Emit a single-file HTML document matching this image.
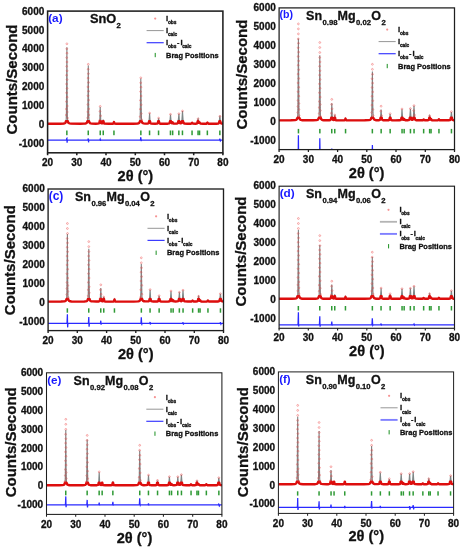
<!DOCTYPE html>
<html><head><meta charset="utf-8"><title>XRD Rietveld refinement</title>
<style>
html,body{margin:0;padding:0;background:#fff;}
svg{display:block;filter:blur(0.3px);font-family:'Liberation Sans', Arial, Helvetica, sans-serif;}
</style></head>
<body>
<svg width="464" height="550" viewBox="0 0 464 550">
<rect width="464" height="550" fill="#fff"/>
<clipPath id="clipa"><rect x="47.6" y="11.1" width="175.3" height="141.7"/></clipPath>
<g clip-path="url(#clipa)">
<path d="M47.5 123.7L59.3 123.7L63.3 123.6L64.3 123.4L65 123.1L65.5 122.6L65.8 121.8L66.2 119.5L66.4 111.8L66.9 47.2L67.2 100.5L67.4 117.1L67.6 119.5L67.9 121.8L68.4 122.8L69 123.2L70.1 123.5L72.2 123.7L79.2 123.7L83.9 123.6L85.3 123.5L86.3 123.2L86.9 122.7L87.2 122L87.4 120.9L87.6 119.8L87.8 112.3L88.3 65.5L88.6 102.9L88.8 117.4L89 119.8L89.2 121.6L89.4 122.3L89.7 122.7L90 123.1L90.4 123.3L91.1 123.5L92.1 123.6L96.8 123.7L98.6 123.5L99.1 123.3L99.3 123L99.5 122.4L99.8 120.1L100.2 107L100.8 121L101 122.7L101.2 123.1L101.6 123.3L102.3 123.4L102.5 123.3L102.6 123.1L102.8 122.4L103.2 119.6L103.8 123.2L104.1 123.5L104.8 123.6L109.7 123.7L113 123.7L113.3 123.6L113.5 123.3L114 122L114.6 123.5L114.8 123.6L115.5 123.7L135.6 123.7L137.9 123.5L138.6 123.3L139.1 123L139.5 122.4L139.8 121.8L140 120.4L140.1 118.7L140.3 110.3L140.8 78.5L141.3 110.3L141.5 118.7L141.6 120.4L141.9 121.8L142.2 122.6L142.8 123.2L143.4 123.4L144.1 123.5L146.4 123.6L147.9 123.5L148.4 123.3L148.6 123.1L148.9 122.5L149 121.7L149.6 113.3L150.1 121.7L150.3 122.5L150.5 123.1L150.7 123.3L151.1 123.5L152.5 123.7L155.5 123.7L156.9 123.6L157.6 123.4L157.9 123L158 122.6L158.6 118.3L159.2 122.6L159.4 123.3L159.6 123.5L160.9 123.7L164.9 123.7L168 123.6L169.2 123.4L169.4 123.2L169.6 122.9L169.9 121.6L170.5 114.5L171.1 121.6L171.2 122.4L171.4 123.1L171.7 123.3L172 123.2L172.6 122.3L173.2 123.3L173.5 123.6L175.8 123.6L177.3 123.4L177.9 123.1L178.1 122.2L178.9 113.8L179 114.6L179.4 121L179.6 122.5L179.8 122.9L180 123.2L180.5 123.3L181 123.3L181.3 123.1L181.5 122.7L181.8 121.5L182.5 111.1L183.2 121.8L183.3 122.4L183.5 123L183.8 123.3L184.2 123.5L186.1 123.7L190.9 123.7L191.3 123.6L191.5 123.5L192.1 122.7L192.7 123.5L193.1 123.7L195.5 123.7L196.8 123.5L197.2 123.3L197.4 122.7L197.9 119.3L198.1 118.9L198.2 119.3L198.6 122.1L198.8 122.8L198.9 122.9L199.1 122.9L199.5 122.3L200.1 123.3L200.6 123.6L202.9 123.7L206.3 123.7L206.8 123.4L207.4 122.6L208.1 123.5L208.5 123.7L215.4 123.7L218.1 123.6L218.7 123.3L219 122.8L219.3 121.6L219.7 116.9L219.9 116.5L220 116.9L220.5 121.6L220.8 123.1L221 123.3L221.5 123.5L223.7 123.7" fill="none" stroke="#7d8686" stroke-width="1.1"/>
<path d="M47.5 123.7L60.4 123.7L63.7 123.5L64.6 123.3L65.2 122.9L65.6 122.4L65.9 121.3L66 121.2L67.7 121.2L67.8 121.2L68.2 122.4L68.6 123L69.6 123.4L71 123.6L80.4 123.7L83.9 123.6L85.2 123.5L86.1 123.3L86.7 122.9L87.1 122.3L87.4 121.2L89.1 121.2L89.4 122.3L89.7 122.7L90 123.1L90.6 123.4L92.1 123.6L95.7 123.7L97.8 123.6L98.8 123.4L99.2 123.2L99.4 122.8L99.7 121.2L100.8 121.2L100.9 122.4L101.1 122.9L101.5 123.3L102.2 123.4L102.5 123.3L102.7 122.9L103 121.2L103.5 121.2L103.8 123.2L104.1 123.5L104.5 123.6L108.6 123.7L113 123.7L113.3 123.6L113.5 123.3L114 122L114.4 123.3L114.8 123.6L116.1 123.7L121.5 123.7L133.2 123.7L137.6 123.5L138.6 123.3L139.2 122.9L139.5 122.4L139.9 121.3L140 121.2L141.6 121.2L141.7 121.3L142.1 122.4L142.6 123L143.5 123.4L145 123.6L147.3 123.6L148.4 123.3L148.7 122.9L149.1 121.2L150 121.2L150.3 122.4L150.5 123.1L150.8 123.4L151.4 123.6L155.2 123.7L156.7 123.6L157.4 123.5L157.6 123.4L157.9 123L158.2 121.2L158.9 121.2L159.3 123L159.6 123.5L160.7 123.7L163.8 123.7L167.7 123.7L169.1 123.4L169.4 123.2L169.6 122.9L170 121.2L171 121.2L171.3 122.8L171.7 123.2L172 123.2L172.6 122.3L173.2 123.3L173.4 123.5L174.9 123.6L176.7 123.6L177.6 123.3L177.9 123.1L178 122.7L178.3 121.3L178.4 121.2L179.4 121.2L179.6 122.1L179.8 122.9L180.1 123.2L180.7 123.3L181.2 123.2L181.4 122.9L181.6 122.3L181.9 121.2L183.1 121.2L183.3 122.4L183.5 123L183.9 123.3L184.5 123.5L187.3 123.7L191 123.7L191.5 123.5L192.1 122.7L192.7 123.4L193 123.6L195.6 123.7L196.6 123.6L197.1 123.4L197.3 122.9L197.7 121.2L198.4 121.2L198.7 122.5L198.9 122.9L199.1 122.9L199.5 122.3L200.2 123.4L200.7 123.6L203 123.7L206.3 123.7L206.8 123.4L207.4 122.6L208.1 123.5L208.5 123.7L216.3 123.7L218 123.6L218.7 123.3L219 122.7L219.4 121.2L220.3 121.2L220.7 122.7L221 123.3L221.9 123.6L223.7 123.7" fill="none" stroke="#dd0d0d" stroke-width="2.4" stroke-linejoin="round"/>
<g fill="none" stroke="#ee3b3b" stroke-width="0.8" stroke-opacity="0.5"><circle cx="66.9" cy="43.8" r="0.9"/><circle cx="66.8" cy="48.8" r="0.9"/><circle cx="67" cy="53.2" r="0.9"/><circle cx="66.7" cy="57.6" r="0.9"/><circle cx="67" cy="62" r="0.9"/><circle cx="66.7" cy="66.4" r="0.9"/><circle cx="67.1" cy="70.8" r="0.9"/><circle cx="66.6" cy="75.2" r="0.9"/><circle cx="67.1" cy="79.6" r="0.9"/><circle cx="66.6" cy="84" r="0.9"/><circle cx="67.1" cy="88.4" r="0.9"/><circle cx="66.6" cy="92.8" r="0.9"/><circle cx="67.2" cy="97.2" r="0.9"/><circle cx="66.5" cy="101.6" r="0.9"/><circle cx="67.3" cy="106" r="0.9"/><circle cx="66.4" cy="109" r="0.9"/><circle cx="67.3" cy="112" r="0.9"/><circle cx="66.3" cy="115" r="0.9"/><circle cx="67.5" cy="118" r="0.9"/><circle cx="88.3" cy="64.3" r="0.9"/><circle cx="88.2" cy="69.3" r="0.9"/><circle cx="88.4" cy="73.7" r="0.9"/><circle cx="88.1" cy="78.1" r="0.9"/><circle cx="88.5" cy="82.5" r="0.9"/><circle cx="88" cy="86.9" r="0.9"/><circle cx="88.5" cy="91.3" r="0.9"/><circle cx="88" cy="95.7" r="0.9"/><circle cx="88.6" cy="100.1" r="0.9"/><circle cx="87.9" cy="104.5" r="0.9"/><circle cx="88.7" cy="108.9" r="0.9"/><circle cx="87.8" cy="111.9" r="0.9"/><circle cx="88.8" cy="114.9" r="0.9"/><circle cx="87.6" cy="117.9" r="0.9"/><circle cx="100.2" cy="106.4" r="0.9"/><circle cx="100" cy="111.4" r="0.9"/><circle cx="100.6" cy="115.8" r="0.9"/><circle cx="99.8" cy="120.2" r="0.9"/><circle cx="140.8" cy="77.8" r="0.9"/><circle cx="140.7" cy="82.8" r="0.9"/><circle cx="141" cy="87.2" r="0.9"/><circle cx="140.6" cy="91.6" r="0.9"/><circle cx="141.1" cy="96" r="0.9"/><circle cx="140.5" cy="100.4" r="0.9"/><circle cx="141.2" cy="104.8" r="0.9"/><circle cx="140.4" cy="109.2" r="0.9"/><circle cx="141.3" cy="113.6" r="0.9"/><circle cx="140.2" cy="116.6" r="0.9"/><circle cx="141.6" cy="119.6" r="0.9"/><circle cx="149.6" cy="113.1" r="0.9"/><circle cx="158.6" cy="118.1" r="0.9"/><circle cx="170.5" cy="114.3" r="0.9"/><circle cx="178.9" cy="113.7" r="0.9"/><circle cx="182.5" cy="111" r="0.9"/><circle cx="198.1" cy="118.8" r="0.9"/><circle cx="219.9" cy="116.3" r="0.9"/></g>
<g fill="#2f9a35"><rect x="66.1" y="130.5" width="1.5" height="4.7"/><rect x="87.5" y="130.5" width="1.5" height="4.7"/><rect x="99.5" y="130.5" width="1.5" height="4.7"/><rect x="102.5" y="130.5" width="1.5" height="4.7"/><rect x="113.2" y="130.5" width="1.5" height="4.7"/><rect x="140.1" y="130.5" width="1.5" height="4.7"/><rect x="148.8" y="130.5" width="1.5" height="4.7"/><rect x="157.8" y="130.5" width="1.5" height="4.7"/><rect x="169.7" y="130.5" width="1.5" height="4.7"/><rect x="171.9" y="130.5" width="1.5" height="4.7"/><rect x="178.1" y="130.5" width="1.5" height="4.7"/><rect x="181.7" y="130.5" width="1.5" height="4.7"/><rect x="191.3" y="130.5" width="1.5" height="4.7"/><rect x="197.3" y="130.5" width="1.5" height="4.7"/><rect x="198.8" y="130.5" width="1.5" height="4.7"/><rect x="206.6" y="130.5" width="1.5" height="4.7"/><rect x="219.1" y="130.5" width="1.5" height="4.7"/></g>
<path d="M47.5 140L66.4 140L66.5 139.9L66.6 139.5L66.7 138.5L66.9 138.3L67.1 142.8L67.3 140.8L67.4 140.1L67.6 140L87.8 140L87.9 139.9L88.3 138.5L88.5 141.5L88.6 141.6L88.8 140.2L89 140L99.7 140L99.9 139.9L100.2 139.1L100.3 139.4L100.5 140.9L100.8 140.1L101.1 140L140.1 140L140.3 139.9L140.5 139.6L140.8 137.2L141.2 140.6L141.3 140.6L141.5 140.1L141.9 140L219 140L219.4 139.9L219.7 139.2L219.9 139.2L220.2 140.7L220.3 140.9L220.7 140.2L220.9 140L223.7 140" fill="none" stroke="#2a2aff" stroke-width="1.25"/>
</g>
<rect x="47.6" y="11.1" width="175.3" height="141.7" fill="none" stroke="#1e1e1e" stroke-width="1.55"/>
<path d="M47.6 152.8V155.2M76.8 152.8V155.2M106 152.8V155.2M135.3 152.8V155.2M164.5 152.8V155.2M193.7 152.8V155.2M222.9 152.8V155.2" stroke="#1e1e1e" stroke-width="1.55"/>
<g font-size="10" font-weight="bold" fill="#111" stroke="#111" stroke-width="0.3"><text x="44.3" y="146.6" text-anchor="end">-1000</text><text x="44.3" y="127.7" text-anchor="end">0</text><text x="44.3" y="108.9" text-anchor="end">1000</text><text x="44.3" y="90" text-anchor="end">2000</text><text x="44.3" y="71.2" text-anchor="end">3000</text><text x="44.3" y="52.3" text-anchor="end">4000</text><text x="44.3" y="33.5" text-anchor="end">5000</text><text x="44.3" y="14.6" text-anchor="end">6000</text><text x="47.6" y="165.8" text-anchor="middle">20</text><text x="76.8" y="165.8" text-anchor="middle">30</text><text x="106" y="165.8" text-anchor="middle">40</text><text x="135.3" y="165.8" text-anchor="middle">50</text><text x="164.5" y="165.8" text-anchor="middle">60</text><text x="193.7" y="165.8" text-anchor="middle">70</text><text x="222.9" y="165.8" text-anchor="middle">80</text></g>
<text transform="translate(16.6 79.5) rotate(-90)" text-anchor="middle" font-size="15" font-weight="bold" fill="#111" stroke="#111" stroke-width="0.3">Counts/Second</text>
<text x="117.6" y="180.6" font-size="14.6" font-weight="bold" fill="#111" stroke="#111" stroke-width="0.3">2&#952; (&#176;)</text>
<text x="48.2" y="22.3" font-size="11.8" font-weight="bold" fill="#1a1aff">(a)</text>
<g font-weight="bold" fill="#111" stroke="#111" stroke-width="0.3"><text x="90" y="23" font-size="12.2" textLength="26.3" lengthAdjust="spacingAndGlyphs">SnO</text><text x="116.4" y="28.3" font-size="7.7">2</text></g>
<g font-weight="bold" fill="#111" stroke="#111" stroke-width="0.3"><circle cx="155.2" cy="18.6" r="1.1" fill="#ee3b3b" fill-opacity="0.55" stroke="none"/><line x1="146.6" y1="30.6" x2="163.7" y2="30.6" stroke="#8a8a8a" stroke-width="0.9"/><line x1="146.6" y1="42.7" x2="163.7" y2="42.7" stroke="#3b3bff" stroke-width="1.2"/><rect x="154.7" y="52.9" width="1.1" height="4.3" fill="#2f9a35" stroke="none"/><text x="166.1" y="20.9" font-size="7.6">I</text><text x="167.9" y="24.2" font-size="4.8">obs</text><text x="166.1" y="33" font-size="7.6">I</text><text x="167.9" y="36.3" font-size="4.8">calc</text><text x="166.1" y="45.1" font-size="7.6">I</text><text x="167.9" y="48.4" font-size="4.8">obs</text><text x="177.1" y="45.1" font-size="7.2">-</text><text x="180.4" y="45.1" font-size="7.6">I</text><text x="182.2" y="48.4" font-size="4.8">calc</text><text x="166.1" y="57.5" font-size="7.45">Brag Positions</text></g>
<clipPath id="clipb"><rect x="279.1" y="7.9" width="175.4" height="141.7"/></clipPath>
<g clip-path="url(#clipb)">
<path d="M279.1 120.4L290.8 120.4L294.9 120.2L295.8 120L296.5 119.7L297 119.2L297.4 118.4L297.7 115.9L297.9 107.6L298.4 38.6L298.8 95.5L299 113.3L299.1 115.9L299.5 118.4L299.9 119.4L300.5 119.9L301.1 120.1L301.9 120.2L304.9 120.3L313.1 120.3L316.3 120.2L317.2 120L317.9 119.8L318.4 119.3L318.8 118.5L319 117.3L319.1 116L319.3 107.7L319.8 55.3L320.2 97.1L320.4 113.3L320.5 116L320.7 118L321 118.8L321.2 119.3L321.6 119.7L321.9 119.9L322.6 120.1L323.7 120.2L328.3 120.3L330 120.2L330.5 120L330.8 119.7L331.1 119.1L331.3 116.6L331.8 103.3L332.3 117.6L332.6 119.3L332.8 119.7L333.1 120L333.8 120L334.1 119.8L334.2 119.6L334.4 118.7L334.8 114.9L335.2 118.7L335.4 119.6L335.6 120L336.3 120.3L340.1 120.4L344.6 120.3L344.8 120.2L345.1 119.9L345.5 118.6L346.1 120.1L346.3 120.3L347.1 120.4L367.1 120.3L369.5 120.1L370.1 119.9L370.7 119.6L371.1 119L371.3 118.3L371.5 116.8L371.7 115L371.9 105.8L372.4 71.4L372.8 105.8L373.1 115L373.2 116.8L373.4 118.3L373.8 119.2L374.4 119.8L374.9 120L375.6 120.1L377.9 120.3L379.5 120.1L379.9 120L380.2 119.7L380.4 119.1L380.5 118.3L381.1 109.6L381.7 118.3L381.9 119.5L382.2 119.9L382.4 120L383.7 120.3L386.6 120.3L388.5 120.2L389.2 120L389.4 119.5L389.5 119.1L390.1 114L390.7 119.1L390.9 119.8L391.2 120.1L392.2 120.3L395.3 120.4L399 120.3L400.5 120.1L400.9 119.9L401.1 119.6L401.3 118.8L401.6 116.5L401.9 110.1L402 109.3L402.6 117.9L402.7 118.8L403 119.6L403.2 119.8L403.5 119.8L404.2 119L404.7 120L405.1 120.2L407.2 120.3L408.8 120.1L409.1 119.9L409.4 119.6L409.7 118.6L410.4 108.8L410.5 109.7L411 117.2L411.2 119L411.3 119.4L411.6 119.7L412 119.9L412.5 119.8L412.9 119.6L413.1 119.2L413.3 117.8L414 105.9L414.7 118.1L414.8 118.9L415.1 119.6L415.3 119.8L415.8 120.1L417.6 120.3L422.5 120.3L423.1 120.1L423.6 119.4L424.2 120.1L424.6 120.3L426.9 120.3L428.4 120.2L428.7 119.9L429 119.4L429.5 116.3L429.6 115.9L429.7 116.2L430.1 118.8L430.4 119.6L430.5 119.6L430.6 119.6L431.1 119.1L431.7 120L432.1 120.3L434.5 120.4L437.9 120.3L438.3 120.1L438.9 119.3L439.6 120.2L440.2 120.3L447 120.4L449.7 120.2L450.2 119.9L450.6 119.3L450.8 117.9L451.3 112.5L451.4 112L451.5 112.5L452 117.9L452.4 119.6L452.6 119.9L453.1 120.2L455.2 120.4" fill="none" stroke="#7d8686" stroke-width="1.1"/>
<path d="M279.1 120.4L290.8 120.3L295 120.1L295.9 119.9L296.6 119.5L297 119L297.5 117.8L299.3 117.8L299.9 119.2L300.3 119.6L300.9 119.9L301.9 120.2L303.7 120.3L313.1 120.3L316.6 120.1L317.5 119.9L318 119.5L318.5 118.8L318.9 117.8L320.7 117.8L321.3 119.2L321.8 119.7L322.4 120L323.7 120.2L327.2 120.3L329.3 120.2L330.4 120L330.7 119.7L331 119.2L331.2 117.8L332.4 117.8L332.6 119L332.7 119.5L333.1 119.9L333.7 120L334 119.9L334.2 119.6L334.5 117.8L335.1 117.8L335.4 119.8L335.7 120.1L336.3 120.3L340.1 120.4L344.6 120.3L344.8 120.2L345.1 119.9L345.5 118.6L346 119.9L346.3 120.3L347.6 120.4L353 120.4L364.8 120.3L369 120.1L369.9 119.9L370.6 119.5L370.9 119L371.4 117.8L373.3 117.8L373.8 119L374.4 119.7L375.2 120L376.5 120.2L378.8 120.2L379.3 120.1L379.8 119.9L380 119.7L380.3 119.2L380.5 117.8L381.7 117.8L382 119.5L382.4 119.9L383.1 120.2L384.4 120.3L386.6 120.3L388 120.3L388.8 120.2L389.2 120L389.4 119.5L389.8 117.8L390.5 117.8L390.8 119.5L391.2 120.1L392.2 120.3L395.3 120.4L399.2 120.3L400.6 120L401.1 119.6L401.3 118.7L401.5 117.8L401.6 117.8L402.6 117.8L402.9 119.3L403 119.6L403.2 119.8L403.6 119.8L404.2 119L404.9 120.1L405.3 120.2L406.4 120.3L408.1 120.2L409 120L409.2 119.8L409.5 119.5L409.8 117.8L411 117.8L411.2 119.1L411.4 119.6L411.8 119.8L412.3 119.9L412.7 119.7L413 119.4L413.2 118.8L413.3 117.8L414.6 117.8L415.1 119.5L415.4 119.9L416.1 120.2L418.8 120.3L422.6 120.3L423.1 120.1L423.6 119.4L424.2 120.1L424.6 120.3L427.2 120.3L428.1 120.2L428.6 120L429 119.4L429.3 117.8L430 117.8L430.2 119L430.4 119.6L430.6 119.6L431.1 119L431.7 120.1L432.2 120.3L434.6 120.4L437.9 120.3L438.3 120.1L438.9 119.3L439.6 120.2L440.1 120.3L447.9 120.3L449.3 120.2L450.1 120L450.5 119.5L450.8 117.8L452 117.8L452.2 119.2L452.6 119.9L453.4 120.2L455.2 120.3" fill="none" stroke="#dd0d0d" stroke-width="2.4" stroke-linejoin="round"/>
<g fill="none" stroke="#ee3b3b" stroke-width="0.8" stroke-opacity="0.5"><circle cx="298.4" cy="23.9" r="0.9"/><circle cx="298.4" cy="28.9" r="0.9"/><circle cx="298.4" cy="33.9" r="0.9"/><circle cx="298.3" cy="38.9" r="0.9"/><circle cx="298.5" cy="43.3" r="0.9"/><circle cx="298.2" cy="47.7" r="0.9"/><circle cx="298.6" cy="52.1" r="0.9"/><circle cx="298.2" cy="56.5" r="0.9"/><circle cx="298.6" cy="60.9" r="0.9"/><circle cx="298.2" cy="65.3" r="0.9"/><circle cx="298.7" cy="69.7" r="0.9"/><circle cx="298.1" cy="74.1" r="0.9"/><circle cx="298.7" cy="78.5" r="0.9"/><circle cx="298.1" cy="82.9" r="0.9"/><circle cx="298.7" cy="87.3" r="0.9"/><circle cx="298.1" cy="91.7" r="0.9"/><circle cx="298.8" cy="96.1" r="0.9"/><circle cx="298" cy="100.5" r="0.9"/><circle cx="298.9" cy="103.5" r="0.9"/><circle cx="297.9" cy="106.5" r="0.9"/><circle cx="298.9" cy="109.5" r="0.9"/><circle cx="297.8" cy="112.5" r="0.9"/><circle cx="299.1" cy="115.5" r="0.9"/><circle cx="319.8" cy="42.5" r="0.9"/><circle cx="319.8" cy="47.5" r="0.9"/><circle cx="319.8" cy="52.5" r="0.9"/><circle cx="319.7" cy="57.5" r="0.9"/><circle cx="320" cy="61.9" r="0.9"/><circle cx="319.6" cy="66.3" r="0.9"/><circle cx="320" cy="70.7" r="0.9"/><circle cx="319.6" cy="75.1" r="0.9"/><circle cx="320.1" cy="79.5" r="0.9"/><circle cx="319.5" cy="83.9" r="0.9"/><circle cx="320.1" cy="88.3" r="0.9"/><circle cx="319.5" cy="92.7" r="0.9"/><circle cx="320.2" cy="97.1" r="0.9"/><circle cx="319.4" cy="101.5" r="0.9"/><circle cx="320.3" cy="104.5" r="0.9"/><circle cx="319.3" cy="107.5" r="0.9"/><circle cx="320.4" cy="110.5" r="0.9"/><circle cx="319.2" cy="113.5" r="0.9"/><circle cx="320.6" cy="116.5" r="0.9"/><circle cx="331.8" cy="99.4" r="0.9"/><circle cx="331.6" cy="104.4" r="0.9"/><circle cx="332.1" cy="108.8" r="0.9"/><circle cx="331.4" cy="113.2" r="0.9"/><circle cx="334.8" cy="115" r="0.9"/><circle cx="372.4" cy="64.3" r="0.9"/><circle cx="372.4" cy="69.3" r="0.9"/><circle cx="372.5" cy="74.3" r="0.9"/><circle cx="372.1" cy="78.7" r="0.9"/><circle cx="372.6" cy="83.1" r="0.9"/><circle cx="372.1" cy="87.5" r="0.9"/><circle cx="372.7" cy="91.9" r="0.9"/><circle cx="372" cy="96.3" r="0.9"/><circle cx="372.8" cy="100.7" r="0.9"/><circle cx="371.9" cy="105.1" r="0.9"/><circle cx="372.9" cy="109.5" r="0.9"/><circle cx="371.7" cy="112.5" r="0.9"/><circle cx="373.1" cy="115.5" r="0.9"/><circle cx="381.1" cy="106.2" r="0.9"/><circle cx="380.8" cy="111.2" r="0.9"/><circle cx="381.6" cy="115.6" r="0.9"/><circle cx="390.1" cy="113.7" r="0.9"/><circle cx="402" cy="109" r="0.9"/><circle cx="410.4" cy="108.6" r="0.9"/><circle cx="414" cy="105.6" r="0.9"/><circle cx="413.7" cy="110.6" r="0.9"/><circle cx="414.5" cy="115" r="0.9"/><circle cx="429.6" cy="115.7" r="0.9"/><circle cx="451.4" cy="111.7" r="0.9"/></g>
<g fill="#2f9a35"><rect x="297.7" y="128.9" width="1.5" height="4.5"/><rect x="319.1" y="128.9" width="1.5" height="4.5"/><rect x="331" y="128.9" width="1.5" height="4.5"/><rect x="334" y="128.9" width="1.5" height="4.5"/><rect x="344.8" y="128.9" width="1.5" height="4.5"/><rect x="371.6" y="128.9" width="1.5" height="4.5"/><rect x="380.4" y="128.9" width="1.5" height="4.5"/><rect x="389.4" y="128.9" width="1.5" height="4.5"/><rect x="401.3" y="128.9" width="1.5" height="4.5"/><rect x="403.4" y="128.9" width="1.5" height="4.5"/><rect x="409.7" y="128.9" width="1.5" height="4.5"/><rect x="413.3" y="128.9" width="1.5" height="4.5"/><rect x="422.9" y="128.9" width="1.5" height="4.5"/><rect x="428.9" y="128.9" width="1.5" height="4.5"/><rect x="430.3" y="128.9" width="1.5" height="4.5"/><rect x="438.2" y="128.9" width="1.5" height="4.5"/><rect x="450.7" y="128.9" width="1.5" height="4.5"/></g>
<path d="M279.1 160L297.9 160L298.1 159.4L298.2 155.1L298.4 135.3L298.6 155.1L298.8 159.4L298.9 160L299 160L319.1 160L319.3 159.9L319.5 159L319.6 154.4L319.8 138.3L320.2 159L320.3 159.9L320.4 160L331.3 160L331.4 159.7L331.5 158.3L331.8 148.5L332.1 158.3L332.2 159.7L332.3 160L334.2 160L334.4 159.7L334.5 158.4L334.8 149.5L335.1 158.4L335.2 159.7L335.4 160L371.7 160L371.8 160L371.9 159.6L372 158.2L372.4 145L372.7 158.2L372.8 159.6L373 160L380.5 160L380.6 159.7L380.8 158.5L381.1 149L381.5 158.5L381.6 159.7L381.7 160L381.8 160L455.2 160" fill="none" stroke="#2a2aff" stroke-width="1.25"/>
</g>
<rect x="279.1" y="7.9" width="175.4" height="141.7" fill="none" stroke="#1e1e1e" stroke-width="1.25"/>
<path d="M279.1 149.6V152M308.4 149.6V152M337.6 149.6V152M366.8 149.6V152M396 149.6V152M425.3 149.6V152M454.5 149.6V152" stroke="#1e1e1e" stroke-width="1.25"/>
<g font-size="10" font-weight="bold" fill="#111" stroke="#111" stroke-width="0.3"><text x="275.8" y="143.5" text-anchor="end">-1000</text><text x="275.8" y="124.5" text-anchor="end">0</text><text x="275.8" y="105.6" text-anchor="end">1000</text><text x="275.8" y="86.6" text-anchor="end">2000</text><text x="275.8" y="67.7" text-anchor="end">3000</text><text x="275.8" y="48.8" text-anchor="end">4000</text><text x="275.8" y="29.8" text-anchor="end">5000</text><text x="275.8" y="10.9" text-anchor="end">6000</text><text x="279.1" y="162.9" text-anchor="middle">20</text><text x="308.4" y="162.9" text-anchor="middle">30</text><text x="337.6" y="162.9" text-anchor="middle">40</text><text x="366.8" y="162.9" text-anchor="middle">50</text><text x="396" y="162.9" text-anchor="middle">60</text><text x="425.3" y="162.9" text-anchor="middle">70</text><text x="454.5" y="162.9" text-anchor="middle">80</text></g>
<text transform="translate(247.3 74.6) rotate(-90)" text-anchor="middle" font-size="15" font-weight="bold" fill="#111" stroke="#111" stroke-width="0.3">Counts/Second</text>
<text x="348.8" y="177.6" font-size="14.6" font-weight="bold" fill="#111" stroke="#111" stroke-width="0.3">2&#952; (&#176;)</text>
<text x="279.5" y="17.9" font-size="10.6" font-weight="bold" fill="#1a1aff">(b)</text>
<g font-weight="bold" fill="#111" stroke="#111" stroke-width="0.3"><text x="306.1" y="19.8" font-size="12.5">Sn</text><text x="322.5" y="25.1" font-size="7.7">0.98</text><text x="337.6" y="19.8" font-size="12.5">Mg</text><text x="356" y="25.1" font-size="7.7">0.02</text><text x="371.3" y="19.8" font-size="12.5">O</text><text x="381.4" y="25.1" font-size="7.7">2</text></g>
<g font-weight="bold" fill="#111" stroke="#111" stroke-width="0.3"><circle cx="387.2" cy="29.6" r="1.1" fill="#ee3b3b" fill-opacity="0.55" stroke="none"/><line x1="378.6" y1="41.6" x2="395.7" y2="41.6" stroke="#8a8a8a" stroke-width="0.9"/><line x1="378.6" y1="53.7" x2="395.7" y2="53.7" stroke="#3b3bff" stroke-width="1.2"/><rect x="386.7" y="63.9" width="1.1" height="4.3" fill="#2f9a35" stroke="none"/><text x="398.1" y="31.9" font-size="7.6">I</text><text x="399.9" y="35.2" font-size="4.8">obs</text><text x="398.1" y="44" font-size="7.6">I</text><text x="399.9" y="47.3" font-size="4.8">calc</text><text x="398.1" y="56.1" font-size="7.6">I</text><text x="399.9" y="59.4" font-size="4.8">obs</text><text x="409.1" y="56.1" font-size="7.2">-</text><text x="412.4" y="56.1" font-size="7.6">I</text><text x="414.2" y="59.4" font-size="4.8">calc</text><text x="398.1" y="68.5" font-size="7.45">Brag Positions</text></g>
<clipPath id="clipc"><rect x="48.1" y="189" width="175.4" height="141.6"/></clipPath>
<g clip-path="url(#clipc)">
<path d="M48 301.6L59.8 301.6L63.8 301.4L64.8 301.3L65.5 301L66 300.6L66.3 299.9L66.7 297.8L66.9 291L67.4 234L67.7 281.1L68 295.8L68.1 297.8L68.4 299.9L68.9 300.8L69.5 301.2L70.9 301.4L73.9 301.5L82.1 301.5L85.2 301.4L86.2 301.3L86.9 301.1L87.4 300.7L87.7 300L87.9 299.1L88.1 298L88.3 291.3L88.8 248.8L89.1 282.7L89.4 295.8L89.5 298L89.7 299.6L89.9 300.3L90.2 300.7L90.9 301.2L91.6 301.4L92.6 301.5L97.2 301.5L99 301.4L99.5 301.3L99.8 301L100 300.5L100.3 298.6L100.8 288L101.3 299.3L101.5 300.7L101.8 301.1L102.1 301.2L102.8 301.3L103 301.1L103.2 300.9L103.3 300.1L103.7 296.9L104.2 300.2L104.3 301L104.6 301.3L105.3 301.5L110.3 301.6L113.6 301.5L113.8 301.4L114 301L114.5 299.4L115.1 301.3L115.3 301.5L115.9 301.5L136.1 301.5L138.5 301.4L139.1 301.2L139.6 300.9L140 300.5L140.3 300L140.5 298.8L140.6 297.4L140.9 290.4L141.3 263.9L141.8 290.4L142 297.4L142.2 298.8L142.4 300L142.7 300.7L143.3 301.1L144.7 301.4L147.3 301.5L148.6 301.3L148.9 301.1L149.1 300.9L149.4 300.2L149.5 299.3L150.1 289.8L150.6 297.9L150.8 300.2L150.9 300.6L151.1 301L151.5 301.3L152.1 301.4L153.7 301.5L156.5 301.5L157.6 301.4L158.2 301.2L158.4 300.8L158.5 300.4L159.1 295.9L159.7 300.4L159.9 301.1L160.2 301.3L161.4 301.5L165.5 301.6L168.6 301.5L169.7 301.2L170 301L170.2 300.7L170.4 299.2L171 291.2L171.6 299.2L171.8 300.6L172.1 301L172.3 301.1L172.5 301L173.1 300.2L173.7 301.2L174.2 301.4L175.6 301.5L177.2 301.4L178 301.3L178.4 301L178.6 300.6L178.8 299.4L179.4 292.4L179.5 293.1L179.9 299.1L180.2 300.5L180.3 300.8L180.7 301.1L181.1 301.2L181.6 301.1L181.9 301L182.1 300.7L182.3 299.6L183 290.3L183.7 299.8L183.8 300.4L184.1 300.9L184.3 301.2L184.8 301.3L186.6 301.5L191.5 301.5L192 301.3L192.6 300.6L193.2 301.3L193.7 301.5L196 301.5L197.4 301.4L197.7 301.1L198 300.5L198.5 296.8L198.6 296.5L198.7 296.8L199.1 299.8L199.4 300.7L199.5 300.8L199.6 300.7L200.1 300.2L200.7 301.2L201.1 301.4L203.2 301.6L206.8 301.5L207.3 301.3L207.9 300.5L208.6 301.4L209.1 301.5L216 301.6L218.7 301.4L219.2 301.2L219.6 300.6L219.8 299.3L220.3 294.4L220.4 293.9L220.5 294.4L221 299.3L221.4 300.9L221.6 301.2L222.1 301.4L224.2 301.6" fill="none" stroke="#7d8686" stroke-width="1.1"/>
<path d="M48 301.6L60.9 301.5L64.2 301.4L65.1 301.1L65.7 300.8L66.1 300.3L66.5 299L68.2 299L68.7 300.3L69.2 300.9L70.1 301.3L71.5 301.5L80.9 301.6L84.4 301.5L85.7 301.4L86.7 301.1L87.2 300.7L87.6 300.1L87.9 299L89.6 299L89.9 300.1L90.2 300.6L90.5 300.9L91.1 301.2L92.6 301.4L96.2 301.5L98.4 301.5L99.5 301.2L99.7 301L99.9 300.7L100.2 299L101.3 299L101.5 300.3L101.6 300.8L102 301.2L102.7 301.3L103 301.2L103.2 300.9L103.5 299L104 299L104.2 300.5L104.4 301.1L104.7 301.4L105.2 301.5L109.1 301.6L113.6 301.5L113.8 301.4L114 301L114.5 299.4L115 301L115.3 301.5L116.6 301.6L122 301.6L133.8 301.6L138.2 301.4L139.1 301.1L139.7 300.8L140.2 300.1L140.5 299L142.2 299L142.6 300.3L143.1 300.9L144 301.3L145.5 301.4L147.7 301.4L148.8 301.2L149 301L149.3 300.6L149.5 299.3L149.6 299L150.6 299L151 300.9L151.4 301.2L152 301.4L153.3 301.5L155.6 301.5L157.1 301.5L157.9 301.3L158.2 301.2L158.4 300.8L158.7 299L159.5 299L159.8 300.8L160.2 301.3L161.2 301.5L164.3 301.6L168.2 301.5L169.6 301.3L170 301L170.2 300.7L170.4 299.2L170.6 299L171.5 299L171.6 299.2L171.8 300.5L172.2 301.1L172.5 301L173.1 300.2L173.7 301.2L174 301.4L175.6 301.5L177.2 301.4L178.1 301.2L178.4 301L178.6 300.6L178.9 299L179.9 299L179.9 299L180.1 300.1L180.3 300.8L180.7 301.1L181.4 301.2L181.8 301L182.1 300.7L182.4 299L183.6 299L183.9 300.7L184.3 301.1L184.9 301.4L187.8 301.5L191.6 301.5L192 301.3L192.6 300.6L193.2 301.3L193.6 301.5L196.1 301.5L197.1 301.4L197.6 301.2L198 300.4L198.2 299L199 299L199.2 300.3L199.4 300.7L199.6 300.7L200.1 300.2L200.7 301.2L201.2 301.5L203.6 301.6L206.8 301.5L207.3 301.3L207.9 300.5L208.6 301.4L209.1 301.5L216.9 301.5L218.3 301.5L219.1 301.2L219.5 300.8L219.8 299.2L219.9 299L220.9 299L221 299.2L221.2 300.5L221.6 301.2L222.4 301.4L224.2 301.6" fill="none" stroke="#dd0d0d" stroke-width="2.4" stroke-linejoin="round"/>
<g fill="none" stroke="#ee3b3b" stroke-width="0.8" stroke-opacity="0.5"><circle cx="67.4" cy="223.5" r="0.9"/><circle cx="67.4" cy="228.5" r="0.9"/><circle cx="67.5" cy="233.5" r="0.9"/><circle cx="67.2" cy="238.5" r="0.9"/><circle cx="67.5" cy="242.9" r="0.9"/><circle cx="67.2" cy="247.3" r="0.9"/><circle cx="67.6" cy="251.7" r="0.9"/><circle cx="67.1" cy="256.1" r="0.9"/><circle cx="67.6" cy="260.5" r="0.9"/><circle cx="67.1" cy="264.9" r="0.9"/><circle cx="67.7" cy="269.3" r="0.9"/><circle cx="67" cy="273.7" r="0.9"/><circle cx="67.7" cy="278.1" r="0.9"/><circle cx="67" cy="282.5" r="0.9"/><circle cx="67.8" cy="285.5" r="0.9"/><circle cx="66.9" cy="288.5" r="0.9"/><circle cx="67.9" cy="291.5" r="0.9"/><circle cx="66.8" cy="294.5" r="0.9"/><circle cx="68.1" cy="297.5" r="0.9"/><circle cx="88.8" cy="241.6" r="0.9"/><circle cx="88.8" cy="246.6" r="0.9"/><circle cx="88.9" cy="251.6" r="0.9"/><circle cx="88.6" cy="256" r="0.9"/><circle cx="89" cy="260.4" r="0.9"/><circle cx="88.5" cy="264.8" r="0.9"/><circle cx="89" cy="269.2" r="0.9"/><circle cx="88.5" cy="273.6" r="0.9"/><circle cx="89.1" cy="278" r="0.9"/><circle cx="88.4" cy="282.4" r="0.9"/><circle cx="89.2" cy="286.8" r="0.9"/><circle cx="88.3" cy="289.8" r="0.9"/><circle cx="89.3" cy="292.8" r="0.9"/><circle cx="88.2" cy="295.8" r="0.9"/><circle cx="100.8" cy="284.8" r="0.9"/><circle cx="100.5" cy="289.8" r="0.9"/><circle cx="101.1" cy="294.2" r="0.9"/><circle cx="100.2" cy="298.6" r="0.9"/><circle cx="103.7" cy="297" r="0.9"/><circle cx="141.3" cy="257.8" r="0.9"/><circle cx="141.3" cy="262.8" r="0.9"/><circle cx="141.5" cy="267.8" r="0.9"/><circle cx="141.1" cy="272.2" r="0.9"/><circle cx="141.6" cy="276.6" r="0.9"/><circle cx="141" cy="281" r="0.9"/><circle cx="141.8" cy="285.4" r="0.9"/><circle cx="140.8" cy="289.8" r="0.9"/><circle cx="141.9" cy="294.2" r="0.9"/><circle cx="140.6" cy="297.2" r="0.9"/><circle cx="150.1" cy="289.6" r="0.9"/><circle cx="159.1" cy="295.7" r="0.9"/><circle cx="171" cy="291" r="0.9"/><circle cx="179.4" cy="292.3" r="0.9"/><circle cx="183" cy="290.2" r="0.9"/><circle cx="198.6" cy="296.3" r="0.9"/><circle cx="220.4" cy="293.7" r="0.9"/></g>
<g fill="#2f9a35"><rect x="66.6" y="308.3" width="1.5" height="4.4"/><rect x="88" y="308.3" width="1.5" height="4.4"/><rect x="100" y="308.3" width="1.5" height="4.4"/><rect x="103" y="308.3" width="1.5" height="4.4"/><rect x="113.7" y="308.3" width="1.5" height="4.4"/><rect x="140.6" y="308.3" width="1.5" height="4.4"/><rect x="149.3" y="308.3" width="1.5" height="4.4"/><rect x="158.4" y="308.3" width="1.5" height="4.4"/><rect x="170.3" y="308.3" width="1.5" height="4.4"/><rect x="172.4" y="308.3" width="1.5" height="4.4"/><rect x="178.6" y="308.3" width="1.5" height="4.4"/><rect x="182.3" y="308.3" width="1.5" height="4.4"/><rect x="191.9" y="308.3" width="1.5" height="4.4"/><rect x="197.8" y="308.3" width="1.5" height="4.4"/><rect x="199.3" y="308.3" width="1.5" height="4.4"/><rect x="207.2" y="308.3" width="1.5" height="4.4"/><rect x="219.7" y="308.3" width="1.5" height="4.4"/></g>
<path d="M48 323.4L66.9 323.4L67 323.1L67.1 321.4L67.4 314.3L67.6 326.9L67.7 327.1L67.8 324.6L68 323.6L68.1 323.4L88.3 323.4L88.4 323.1L88.5 321.6L88.8 317.1L89 325.7L89.1 326.6L89.4 323.7L89.5 323.4L100.2 323.4L100.3 323.3L100.5 323L100.8 320.7L101 324L101.1 324.6L101.3 323.6L101.6 323.4L140.7 323.4L140.9 323.2L141 322.6L141.3 317.4L141.7 324.1L141.8 324.3L142 323.5L142.3 323.4L149.5 323.4L149.7 323.2L150.1 322L150.4 324L150.6 323.9L150.8 323.5L151 323.4L182.3 323.4L182.6 323.3L182.9 322.5L183 322.5L183.4 324L183.5 324L183.7 323.6L184.1 323.4L219.7 323.4L219.9 323.3L220.3 322.6L220.4 322.6L220.8 324.1L220.9 324.3L221.2 323.6L221.5 323.4L224.2 323.4" fill="none" stroke="#2a2aff" stroke-width="1.25"/>
</g>
<rect x="48.1" y="189" width="175.4" height="141.6" fill="none" stroke="#1e1e1e" stroke-width="1.35"/>
<path d="M48.1 330.6V333M77.3 330.6V333M106.6 330.6V333M135.8 330.6V333M165 330.6V333M194.3 330.6V333M223.5 330.6V333" stroke="#1e1e1e" stroke-width="1.35"/>
<g font-size="10" font-weight="bold" fill="#111" stroke="#111" stroke-width="0.3"><text x="44.8" y="324.7" text-anchor="end">-1000</text><text x="44.8" y="305.8" text-anchor="end">0</text><text x="44.8" y="286.8" text-anchor="end">1000</text><text x="44.8" y="267.9" text-anchor="end">2000</text><text x="44.8" y="249" text-anchor="end">3000</text><text x="44.8" y="230" text-anchor="end">4000</text><text x="44.8" y="211.1" text-anchor="end">5000</text><text x="44.8" y="192.1" text-anchor="end">6000</text><text x="48.1" y="344" text-anchor="middle">20</text><text x="77.3" y="344" text-anchor="middle">30</text><text x="106.6" y="344" text-anchor="middle">40</text><text x="135.8" y="344" text-anchor="middle">50</text><text x="165" y="344" text-anchor="middle">60</text><text x="194.3" y="344" text-anchor="middle">70</text><text x="223.5" y="344" text-anchor="middle">80</text></g>
<text transform="translate(15 260.2) rotate(-90)" text-anchor="middle" font-size="15" font-weight="bold" fill="#111" stroke="#111" stroke-width="0.3">Counts/Second</text>
<text x="117.9" y="359.1" font-size="14.6" font-weight="bold" fill="#111" stroke="#111" stroke-width="0.3">2&#952; (&#176;)</text>
<text x="48.7" y="200.1" font-size="12.0" font-weight="bold" fill="#1a1aff">(c)</text>
<g font-weight="bold" fill="#111" stroke="#111" stroke-width="0.3"><text x="75" y="200.9" font-size="12.5">Sn</text><text x="91.4" y="206.2" font-size="7.7">0.96</text><text x="106.5" y="200.9" font-size="12.5">Mg</text><text x="124.9" y="206.2" font-size="7.7">0.04</text><text x="140.2" y="200.9" font-size="12.5">O</text><text x="150.3" y="206.2" font-size="7.7">2</text></g>
<g font-weight="bold" fill="#111" stroke="#111" stroke-width="0.3"><circle cx="156.1" cy="216.3" r="1.1" fill="#ee3b3b" fill-opacity="0.55" stroke="none"/><line x1="147.5" y1="228.3" x2="164.6" y2="228.3" stroke="#8a8a8a" stroke-width="0.9"/><line x1="147.5" y1="240.4" x2="164.6" y2="240.4" stroke="#3b3bff" stroke-width="1.2"/><rect x="155.6" y="250.6" width="1.1" height="4.3" fill="#2f9a35" stroke="none"/><text x="167" y="218.6" font-size="7.6">I</text><text x="168.8" y="221.9" font-size="4.8">obs</text><text x="167" y="230.7" font-size="7.6">I</text><text x="168.8" y="234" font-size="4.8">calc</text><text x="167" y="242.8" font-size="7.6">I</text><text x="168.8" y="246.1" font-size="4.8">obs</text><text x="178" y="242.8" font-size="7.2">-</text><text x="181.3" y="242.8" font-size="7.6">I</text><text x="183.1" y="246.1" font-size="4.8">calc</text><text x="167" y="255.2" font-size="7.45">Brag Positions</text></g>
<clipPath id="clipd"><rect x="279.1" y="186.2" width="175.4" height="142.1"/></clipPath>
<g clip-path="url(#clipd)">
<path d="M279 298.8L290.8 298.8L294.8 298.7L295.8 298.5L296.5 298.3L297 297.9L297.3 297.1L297.7 295L297.9 288L298.4 229.9L298.7 277.9L299 292.9L299.1 295L299.4 297.1L299.9 298L300.5 298.4L301.7 298.7L303.7 298.8L315.4 298.7L316.8 298.6L317.8 298.4L318.4 297.9L318.7 297.3L318.9 296.3L319.1 295.2L319.3 288.3L319.8 245.1L320.1 279.6L320.4 293L320.5 295.2L320.7 296.9L320.9 297.5L321.2 297.9L321.9 298.4L322.6 298.6L323.6 298.7L328.2 298.8L330 298.6L330.5 298.5L330.8 298.2L331 297.7L331.3 295.7L331.8 284.4L332.3 296.4L332.5 297.9L332.8 298.3L333.1 298.5L333.8 298.5L334 298.4L334.2 298.2L334.3 297.4L334.7 294.3L335.2 297.5L335.3 298.2L335.6 298.6L336.3 298.7L341.3 298.8L344.6 298.7L344.8 298.7L345 298.3L345.5 296.8L346.1 298.5L346.3 298.7L346.9 298.8L367.1 298.8L369.5 298.6L370.1 298.4L370.6 298.1L371 297.6L371.3 297.1L371.5 295.7L371.6 294.2L371.9 286.4L372.3 256.9L372.8 286.4L373 294.2L373.2 295.7L373.4 297.1L373.7 297.8L374.3 298.3L375.6 298.6L378 298.7L379.4 298.6L379.9 298.4L380.1 298.2L380.4 297.5L380.5 296.8L381.1 288.3L381.7 296.8L381.8 297.6L382 298.2L382.3 298.4L382.6 298.6L383.9 298.8L386.8 298.8L388.5 298.7L389.2 298.5L389.4 298.2L389.5 297.8L390.1 294L390.7 297.8L390.9 298.4L391.2 298.6L392.7 298.8L397.6 298.8L399.8 298.7L400.7 298.5L401 298.3L401.2 298L401.4 296.6L402 288.9L402.6 296.6L402.7 297.4L403 298.1L403.2 298.3L403.5 298.3L404.1 297.5L404.7 298.4L405.1 298.7L407.3 298.7L408.9 298.5L409.4 298.2L409.7 297.2L410.4 288.4L410.5 289.2L410.9 296L411.2 297.6L411.3 298L411.6 298.3L412 298.4L412.5 298.4L412.9 298.2L413.1 297.8L413.3 296.6L414 286.4L414.7 296.9L414.8 297.5L415.1 298.1L415.3 298.4L415.8 298.6L417.6 298.8L422.5 298.8L423 298.6L423.6 297.9L424.2 298.6L424.7 298.8L427 298.8L428.4 298.6L428.7 298.4L429 297.8L429.5 294.3L429.6 294L429.7 294.3L430.1 297.2L430.4 298L430.5 298.1L430.6 298L431.1 297.5L431.7 298.5L432.1 298.7L434.2 298.8L437.8 298.8L438.3 298.5L438.9 297.8L439.6 298.6L440.2 298.8L447 298.8L449.7 298.6L450.2 298.4L450.6 297.8L450.8 296.5L451.3 291.4L451.4 290.9L451.5 291.4L452 296.5L452.4 298.1L452.6 298.4L453.1 298.6L455.2 298.8" fill="none" stroke="#7d8686" stroke-width="1.1"/>
<path d="M279 298.8L291.9 298.8L295.2 298.6L296.1 298.4L296.7 298L297.1 297.5L297.4 296.3L297.5 296.2L299.2 296.2L299.3 296.3L299.7 297.5L300.2 298.1L301.1 298.5L302.5 298.7L311.9 298.8L315.4 298.7L316.7 298.6L317.5 298.4L318.1 298L318.6 297.3L318.9 296.2L320.6 296.2L321.2 297.8L321.7 298.2L322.2 298.5L323.6 298.7L327.2 298.8L329.3 298.7L330.3 298.5L330.7 298.2L330.9 297.9L331.2 296.2L332.3 296.2L332.5 297.5L332.7 298.1L333.1 298.4L333.7 298.5L334 298.4L334.2 298.2L334.5 296.2L335 296.2L335.2 297.8L335.4 298.3L335.7 298.6L336.2 298.7L340.1 298.8L344.6 298.7L344.8 298.7L345 298.3L345.5 296.8L346 298.3L346.3 298.7L347.6 298.8L353 298.8L364.8 298.8L369.2 298.6L370.1 298.4L370.7 298L371 297.5L371.4 296.3L371.5 296.2L373.2 296.2L373.3 296.3L373.6 297.5L374.2 298.1L375 298.5L376.5 298.7L378.9 298.7L379.4 298.6L379.9 298.4L380.3 298L380.6 296.2L381.6 296.2L381.8 297.5L382 298.2L382.4 298.5L383 298.7L386.6 298.8L388.1 298.8L388.9 298.6L389.3 298.4L389.4 298.1L389.7 296.3L390.3 296.2L390.5 296.3L390.8 298.2L391.2 298.6L392.2 298.8L395.3 298.8L399.2 298.8L400.6 298.5L401 298.3L401.2 298L401.6 296.2L402.5 296.2L402.8 297.8L403.2 298.3L403.5 298.3L404.1 297.5L404.7 298.4L405 298.6L406.5 298.7L408.2 298.7L409.1 298.4L409.4 298.1L409.6 297.7L409.8 296.3L411 296.2L411.1 297.1L411.3 298L411.7 298.3L412.3 298.4L412.7 298.3L413 298L413.2 297.5L413.4 296.2L414.6 296.2L414.8 297.5L415.1 298.1L415.4 298.4L416 298.6L418.8 298.8L422.6 298.8L423 298.6L423.6 297.9L424.2 298.6L424.6 298.7L427.1 298.8L428.1 298.7L428.6 298.5L428.9 297.9L429.2 296.2L429.9 296.2L430.2 297.6L430.4 298L430.6 298L431.1 297.5L431.7 298.5L432.2 298.7L434.6 298.8L437.8 298.8L438.3 298.5L438.9 297.8L439.6 298.6L440.1 298.8L447.9 298.8L449.3 298.7L450.1 298.5L450.5 298L450.8 296.4L450.9 296.2L451.9 296.2L452 296.4L452.2 297.7L452.6 298.4L453.4 298.7L455.2 298.8" fill="none" stroke="#dd0d0d" stroke-width="2.4" stroke-linejoin="round"/>
<g fill="none" stroke="#ee3b3b" stroke-width="0.8" stroke-opacity="0.5"><circle cx="298.4" cy="218.5" r="0.9"/><circle cx="298.4" cy="223.5" r="0.9"/><circle cx="298.4" cy="228.5" r="0.9"/><circle cx="298.2" cy="233.5" r="0.9"/><circle cx="298.5" cy="237.9" r="0.9"/><circle cx="298.2" cy="242.3" r="0.9"/><circle cx="298.6" cy="246.7" r="0.9"/><circle cx="298.1" cy="251.1" r="0.9"/><circle cx="298.6" cy="255.5" r="0.9"/><circle cx="298.1" cy="259.9" r="0.9"/><circle cx="298.7" cy="264.3" r="0.9"/><circle cx="298.1" cy="268.7" r="0.9"/><circle cx="298.7" cy="273.1" r="0.9"/><circle cx="298" cy="277.5" r="0.9"/><circle cx="298.8" cy="281.9" r="0.9"/><circle cx="297.9" cy="284.9" r="0.9"/><circle cx="298.9" cy="287.9" r="0.9"/><circle cx="297.8" cy="290.9" r="0.9"/><circle cx="299" cy="293.9" r="0.9"/><circle cx="319.8" cy="235.6" r="0.9"/><circle cx="319.8" cy="240.6" r="0.9"/><circle cx="319.9" cy="245.6" r="0.9"/><circle cx="319.6" cy="250" r="0.9"/><circle cx="320" cy="254.4" r="0.9"/><circle cx="319.5" cy="258.8" r="0.9"/><circle cx="320" cy="263.2" r="0.9"/><circle cx="319.5" cy="267.6" r="0.9"/><circle cx="320.1" cy="272" r="0.9"/><circle cx="319.4" cy="276.4" r="0.9"/><circle cx="320.2" cy="280.8" r="0.9"/><circle cx="319.3" cy="285.2" r="0.9"/><circle cx="320.3" cy="288.2" r="0.9"/><circle cx="319.2" cy="291.2" r="0.9"/><circle cx="320.5" cy="294.2" r="0.9"/><circle cx="331.8" cy="281.2" r="0.9"/><circle cx="331.6" cy="286.2" r="0.9"/><circle cx="332.1" cy="290.6" r="0.9"/><circle cx="331.3" cy="295" r="0.9"/><circle cx="372.3" cy="252.2" r="0.9"/><circle cx="372.2" cy="257.2" r="0.9"/><circle cx="372.5" cy="261.6" r="0.9"/><circle cx="372.1" cy="266" r="0.9"/><circle cx="372.6" cy="270.4" r="0.9"/><circle cx="372" cy="274.8" r="0.9"/><circle cx="372.7" cy="279.2" r="0.9"/><circle cx="371.9" cy="283.6" r="0.9"/><circle cx="372.9" cy="288" r="0.9"/><circle cx="371.7" cy="291" r="0.9"/><circle cx="373.1" cy="294" r="0.9"/><circle cx="381.1" cy="288.1" r="0.9"/><circle cx="390.1" cy="293.8" r="0.9"/><circle cx="402" cy="288.7" r="0.9"/><circle cx="410.4" cy="288.3" r="0.9"/><circle cx="414" cy="286.3" r="0.9"/><circle cx="429.6" cy="293.8" r="0.9"/><circle cx="451.4" cy="290.7" r="0.9"/></g>
<g fill="#2f9a35"><rect x="297.6" y="306" width="1.5" height="4.5"/><rect x="319" y="306" width="1.5" height="4.5"/><rect x="331" y="306" width="1.5" height="4.5"/><rect x="334" y="306" width="1.5" height="4.5"/><rect x="344.7" y="306" width="1.5" height="4.5"/><rect x="371.6" y="306" width="1.5" height="4.5"/><rect x="380.3" y="306" width="1.5" height="4.5"/><rect x="389.4" y="306" width="1.5" height="4.5"/><rect x="401.3" y="306" width="1.5" height="4.5"/><rect x="403.4" y="306" width="1.5" height="4.5"/><rect x="409.6" y="306" width="1.5" height="4.5"/><rect x="413.3" y="306" width="1.5" height="4.5"/><rect x="422.9" y="306" width="1.5" height="4.5"/><rect x="428.8" y="306" width="1.5" height="4.5"/><rect x="430.3" y="306" width="1.5" height="4.5"/><rect x="438.2" y="306" width="1.5" height="4.5"/><rect x="450.7" y="306" width="1.5" height="4.5"/></g>
<path d="M279 324.9L297.9 324.9L298 324.6L298.1 322.3L298.4 312.3L298.6 324.8L298.7 326.4L298.8 325.5L299 325L299.1 324.9L319.3 324.9L319.4 324.5L319.5 322.6L319.8 316.3L320 325L320.1 326.6L320.4 325.1L320.5 324.9L320.6 324.9L331.3 324.9L331.5 324.4L331.8 321.6L332.1 325.6L332.3 325L332.6 324.9L371.7 324.9L371.9 324.7L372 324.1L372.3 318.4L372.7 325.1L372.8 325.4L373 325L373.3 324.9L380.5 324.9L380.7 324.7L381.1 323.5L381.4 325.2L381.6 325.2L381.8 325L382.1 324.9L413.3 324.9L413.5 324.8L413.7 324.7L413.9 324.1L414 324L414.4 325.2L414.5 325.3L414.8 324.9L415.1 324.9L455.2 324.9" fill="none" stroke="#2a2aff" stroke-width="1.25"/>
</g>
<rect x="279.1" y="186.2" width="175.4" height="142.1" fill="none" stroke="#1e1e1e" stroke-width="1.15"/>
<path d="M279.1 328.2V330.6M308.3 328.2V330.6M337.6 328.2V330.6M366.8 328.2V330.6M396 328.2V330.6M425.3 328.2V330.6M454.5 328.2V330.6" stroke="#1e1e1e" stroke-width="1.15"/>
<g font-size="10" font-weight="bold" fill="#111" stroke="#111" stroke-width="0.3"><text x="275.8" y="321.7" text-anchor="end">-1000</text><text x="275.8" y="302.8" text-anchor="end">0</text><text x="275.8" y="283.8" text-anchor="end">1000</text><text x="275.8" y="264.9" text-anchor="end">2000</text><text x="275.8" y="245.9" text-anchor="end">3000</text><text x="275.8" y="227" text-anchor="end">4000</text><text x="275.8" y="208.1" text-anchor="end">5000</text><text x="275.8" y="189.1" text-anchor="end">6000</text><text x="279.1" y="341" text-anchor="middle">20</text><text x="308.3" y="341" text-anchor="middle">30</text><text x="337.6" y="341" text-anchor="middle">40</text><text x="366.8" y="341" text-anchor="middle">50</text><text x="396" y="341" text-anchor="middle">60</text><text x="425.3" y="341" text-anchor="middle">70</text><text x="454.5" y="341" text-anchor="middle">80</text></g>
<text transform="translate(246.4 251.5) rotate(-90)" text-anchor="middle" font-size="15" font-weight="bold" fill="#111" stroke="#111" stroke-width="0.3">Counts/Second</text>
<text x="349.1" y="355.6" font-size="14.6" font-weight="bold" fill="#111" stroke="#111" stroke-width="0.3">2&#952; (&#176;)</text>
<text x="279.7" y="197" font-size="11.8" font-weight="bold" fill="#1a1aff">(d)</text>
<g font-weight="bold" fill="#111" stroke="#111" stroke-width="0.3"><text x="306" y="198.1" font-size="12.5">Sn</text><text x="322.4" y="203.4" font-size="7.7">0.94</text><text x="337.5" y="198.1" font-size="12.5">Mg</text><text x="355.9" y="203.4" font-size="7.7">0.06</text><text x="371.2" y="198.1" font-size="12.5">O</text><text x="381.3" y="203.4" font-size="7.7">2</text></g>
<g font-weight="bold" fill="#111" stroke="#111" stroke-width="0.3"><circle cx="388.5" cy="209.8" r="1.1" fill="#ee3b3b" fill-opacity="0.55" stroke="none"/><line x1="379.9" y1="221.8" x2="397" y2="221.8" stroke="#b4b4b4" stroke-width="1.8"/><line x1="379.9" y1="233.9" x2="397" y2="233.9" stroke="#8080ff" stroke-width="1.9"/><rect x="388" y="244.1" width="1.1" height="4.3" fill="#2f9a35" stroke="none"/><text x="399.4" y="212.1" font-size="7.6">I</text><text x="401.2" y="215.4" font-size="4.8">obs</text><text x="399.4" y="224.2" font-size="7.6">I</text><text x="401.2" y="227.5" font-size="4.8">calc</text><text x="399.4" y="236.3" font-size="7.6">I</text><text x="401.2" y="239.6" font-size="4.8">obs</text><text x="410.4" y="236.3" font-size="7.2">-</text><text x="413.7" y="236.3" font-size="7.6">I</text><text x="415.5" y="239.6" font-size="4.8">calc</text><text x="399.4" y="248.7" font-size="7.45">Brag Positions</text></g>
<clipPath id="clipe"><rect x="46.5" y="372.8" width="175.4" height="141.6"/></clipPath>
<g clip-path="url(#clipe)">
<path d="M46.4 485.3L58.2 485.3L62.2 485.2L63.2 485.1L63.9 484.8L64.4 484.5L64.7 483.9L65.1 482.2L65.3 476.7L65.8 430.1L66.1 468.5L66.4 480.5L66.5 482.2L66.8 483.9L67.3 484.6L67.9 484.9L69.3 485.2L72.3 485.3L80.5 485.3L83.6 485.2L84.6 485.1L85.3 484.8L85.8 484.5L86.1 483.9L86.3 483.1L86.5 482.2L86.7 476.4L87.2 439.6L87.5 469L87.8 480.3L87.9 482.2L88.1 483.6L88.6 484.5L89.3 484.9L91 485.2L95.7 485.2L97.5 485.1L98.2 484.8L98.4 484.3L98.7 482.4L99.2 472.3L99.7 483.1L99.9 484.4L100.2 484.8L100.5 485L101.2 485L101.6 484.8L101.7 484.2L102.1 481.8L102.6 484.5L102.8 484.9L103.1 485.1L104 485.2L106.3 485.3L110.4 485.3L111.8 485.1L112.2 484.9L112.4 484.3L112.9 481.3L113.5 484.7L113.7 485.1L114.2 485.2L118.1 485.3L134.5 485.2L136.9 485.1L137.5 484.9L138 484.7L138.4 484.3L138.7 483.8L138.9 482.7L139 481.4L139.3 474.9L139.7 450.4L140.2 474.9L140.4 481.4L140.6 482.7L140.8 483.8L141.1 484.4L141.7 484.8L143.1 485.1L145.7 485.2L147 485L147.3 484.9L147.5 484.7L147.8 484.1L147.9 483.3L148.5 475.3L149.1 483.3L149.2 484.1L149.4 484.7L150 485.1L151.3 485.2L154.3 485.2L155.9 485.2L156.6 485L156.8 484.7L156.9 484.3L157.5 480.6L158.1 484.3L158.3 484.9L158.6 485.1L159.8 485.2L163.9 485.3L167 485.2L168.1 485L168.4 484.8L168.6 484.6L168.8 483.4L169.4 476.9L170 483.4L170.2 484.4L170.5 484.8L170.7 484.9L170.9 484.8L171.5 484L172.1 484.9L172.6 485.2L175.6 485.1L176.4 485L176.8 484.7L177 484.4L177.2 483.3L177.8 476.8L177.9 477.5L178.3 483L178.6 484.3L178.7 484.6L179 484.8L179.4 484.9L179.9 484.9L180.3 484.7L180.5 484.5L180.7 483.4L181.4 474.8L182.1 483.6L182.2 484.2L182.5 484.7L182.7 484.9L183.2 485.1L185 485.2L189.9 485.2L190.4 485L191 484.3L191.6 485L192 485.2L194.3 485.2L195.8 485.1L196.1 484.9L196.4 484.3L196.9 481.2L197 481L197.1 481.2L197.5 483.8L197.8 484.5L197.9 484.6L198 484.5L198.5 484L199.1 484.9L199.5 485.2L201.9 485.3L205.2 485.2L205.7 485L206.3 484.2L207 485.1L207.5 485.2L214.4 485.3L217.1 485.1L217.6 484.9L218 484.3L218.2 483.1L218.7 478.3L218.8 477.9L218.9 478.3L219.4 483.1L219.8 484.6L220 484.9L220.5 485.1L222.6 485.3" fill="none" stroke="#7d8686" stroke-width="1.1"/>
<path d="M46.4 485.3L59.3 485.2L62.7 485.1L63.7 484.9L64.2 484.5L64.6 483.9L64.9 482.7L66.6 482.7L66.9 483.9L67.2 484.3L67.5 484.7L68.3 485L69.9 485.2L79.3 485.3L82.8 485.2L84.4 485.1L85.2 484.9L85.8 484.4L86.1 483.8L86.5 482.7L87.9 482.7L88.5 484.3L88.8 484.7L89.4 484.9L91 485.2L94.6 485.2L96.9 485.2L98 484.9L98.2 484.7L98.4 484.3L98.7 482.7L99.6 482.7L99.8 484L100 484.6L100.4 484.9L101.1 485L101.4 484.9L101.6 484.6L102 482.7L102.3 482.7L102.7 484.7L102.9 485L103.1 485.1L105.1 485.3L111.1 485.2L111.8 485.1L112.2 484.9L112.4 484.3L112.7 482.7L113.1 482.7L113.5 484.7L113.7 485.1L114 485.1L115.6 485.3L121.6 485.3L133.3 485.2L136.7 485.1L137.6 484.8L138.2 484.5L138.6 483.9L138.9 482.7L140.6 482.7L140.9 483.9L141.1 484.3L141.5 484.6L142.4 485L143.9 485.2L146.3 485.1L147.3 484.9L147.7 484.5L148 482.7L149 482.7L149.2 484L149.4 484.7L149.8 485L150.2 485.1L151.5 485.2L154 485.2L155.5 485.2L156.3 485.1L156.7 484.9L156.8 484.6L157.1 482.8L157.3 482.7L157.7 482.7L157.9 482.8L158.2 484.6L158.6 485L159.6 485.2L162.7 485.3L166.7 485.2L168.1 485L168.4 484.8L168.6 484.5L169 482.7L169.9 482.7L170.2 484.4L170.6 484.8L170.9 484.8L171.5 484L172.1 484.9L172.4 485.1L173.9 485.2L175.7 485.1L176.6 484.9L177 484.4L177.3 482.7L178.3 482.7L178.5 483.9L178.7 484.6L179.1 484.9L179.8 484.9L180.2 484.7L180.5 484.4L180.8 482.7L182 482.7L182.1 483.6L182.3 484.5L182.7 484.9L183.3 485.1L186.2 485.3L190 485.2L190.4 485L191 484.3L191.6 485L192 485.2L194.6 485.2L195.6 485.1L196.1 484.9L196.4 484.3L196.6 482.7L197.3 482.7L197.6 484L197.8 484.5L198 484.5L198.5 483.9L199.1 485L199.6 485.2L202 485.3L205.2 485.2L205.7 485L206.3 484.2L207 485.1L207.5 485.2L215.3 485.2L216.7 485.2L217.5 485L217.9 484.5L218.3 482.7L219.3 482.7L219.6 484.3L220 484.9L220.8 485.1L222.6 485.3" fill="none" stroke="#dd0d0d" stroke-width="2.4" stroke-linejoin="round"/>
<g fill="none" stroke="#ee3b3b" stroke-width="0.8" stroke-opacity="0.5"><circle cx="65.8" cy="419.3" r="0.9"/><circle cx="65.8" cy="424.3" r="0.9"/><circle cx="65.8" cy="429.3" r="0.9"/><circle cx="65.6" cy="434.3" r="0.9"/><circle cx="65.9" cy="438.7" r="0.9"/><circle cx="65.6" cy="443.1" r="0.9"/><circle cx="66" cy="447.5" r="0.9"/><circle cx="65.5" cy="451.9" r="0.9"/><circle cx="66" cy="456.3" r="0.9"/><circle cx="65.5" cy="460.7" r="0.9"/><circle cx="66.1" cy="465.1" r="0.9"/><circle cx="65.4" cy="469.5" r="0.9"/><circle cx="66.2" cy="472.5" r="0.9"/><circle cx="65.3" cy="475.5" r="0.9"/><circle cx="66.3" cy="478.5" r="0.9"/><circle cx="65.1" cy="481.5" r="0.9"/><circle cx="87.2" cy="435.4" r="0.9"/><circle cx="87.1" cy="440.4" r="0.9"/><circle cx="87.3" cy="444.8" r="0.9"/><circle cx="87" cy="449.2" r="0.9"/><circle cx="87.4" cy="453.6" r="0.9"/><circle cx="86.9" cy="458" r="0.9"/><circle cx="87.5" cy="462.4" r="0.9"/><circle cx="86.8" cy="466.8" r="0.9"/><circle cx="87.6" cy="471.2" r="0.9"/><circle cx="86.7" cy="475.6" r="0.9"/><circle cx="87.7" cy="478.6" r="0.9"/><circle cx="86.5" cy="481.6" r="0.9"/><circle cx="99.2" cy="471.9" r="0.9"/><circle cx="139.7" cy="445.3" r="0.9"/><circle cx="139.6" cy="450.3" r="0.9"/><circle cx="139.9" cy="455.3" r="0.9"/><circle cx="139.5" cy="459.7" r="0.9"/><circle cx="140.1" cy="464.1" r="0.9"/><circle cx="139.3" cy="468.5" r="0.9"/><circle cx="140.2" cy="472.9" r="0.9"/><circle cx="139.2" cy="477.3" r="0.9"/><circle cx="140.4" cy="480.3" r="0.9"/><circle cx="148.5" cy="475.1" r="0.9"/><circle cx="157.5" cy="480.4" r="0.9"/><circle cx="169.4" cy="476.7" r="0.9"/><circle cx="177.8" cy="476.7" r="0.9"/><circle cx="181.4" cy="474.7" r="0.9"/><circle cx="197" cy="480.8" r="0.9"/><circle cx="218.8" cy="477.7" r="0.9"/></g>
<g fill="#2f9a35"><rect x="65" y="490.6" width="1.5" height="4.7"/><rect x="86.4" y="490.6" width="1.5" height="4.7"/><rect x="98.4" y="490.6" width="1.5" height="4.7"/><rect x="101.4" y="490.6" width="1.5" height="4.7"/><rect x="112.1" y="490.6" width="1.5" height="4.7"/><rect x="139" y="490.6" width="1.5" height="4.7"/><rect x="147.7" y="490.6" width="1.5" height="4.7"/><rect x="156.8" y="490.6" width="1.5" height="4.7"/><rect x="168.7" y="490.6" width="1.5" height="4.7"/><rect x="170.8" y="490.6" width="1.5" height="4.7"/><rect x="177" y="490.6" width="1.5" height="4.7"/><rect x="180.7" y="490.6" width="1.5" height="4.7"/><rect x="190.3" y="490.6" width="1.5" height="4.7"/><rect x="196.2" y="490.6" width="1.5" height="4.7"/><rect x="197.7" y="490.6" width="1.5" height="4.7"/><rect x="205.6" y="490.6" width="1.5" height="4.7"/><rect x="218.1" y="490.6" width="1.5" height="4.7"/></g>
<path d="M46.4 504.8L65.3 504.8L65.4 504.6L65.5 503L65.8 496.4L66 506.5L66.1 507.1L66.2 505.6L66.4 504.9L66.5 504.8L86.7 504.8L86.8 504.5L86.9 503.4L87.2 499.9L87.4 506.8L87.5 507.5L87.8 505.1L87.9 504.8L98.6 504.8L98.7 504.7L98.9 504.4L99.2 502.5L99.5 505.5L99.7 504.9L100 504.8L112.4 504.8L112.5 504.6L112.9 501.9L113.2 505L113.4 505L113.6 504.8L113.8 504.8L139 504.8L139.3 504.6L139.4 504L139.7 498.2L140.1 505L140.2 505.3L140.4 504.9L140.7 504.8L147.9 504.8L148.1 504.6L148.5 503.4L148.8 505.1L149 505.1L149.2 504.9L149.5 504.8L218 504.8L218.3 504.7L218.7 504L218.8 504.1L219.2 506L219.3 506.1L219.6 505L219.9 504.8L222.6 504.8" fill="none" stroke="#2a2aff" stroke-width="1.25"/>
</g>
<rect x="46.5" y="372.8" width="175.4" height="141.6" fill="none" stroke="#1e1e1e" stroke-width="1.05"/>
<path d="M46.5 514.4V516.8M75.7 514.4V516.8M105 514.4V516.8M134.2 514.4V516.8M163.4 514.4V516.8M192.7 514.4V516.8M221.9 514.4V516.8" stroke="#1e1e1e" stroke-width="1.05"/>
<g font-size="10" font-weight="bold" fill="#111" stroke="#111" stroke-width="0.3"><text x="43.2" y="508.2" text-anchor="end">-1000</text><text x="43.2" y="489.3" text-anchor="end">0</text><text x="43.2" y="470.4" text-anchor="end">1000</text><text x="43.2" y="451.5" text-anchor="end">2000</text><text x="43.2" y="432.6" text-anchor="end">3000</text><text x="43.2" y="413.6" text-anchor="end">4000</text><text x="43.2" y="394.7" text-anchor="end">5000</text><text x="43.2" y="375.8" text-anchor="end">6000</text><text x="46.5" y="527.6" text-anchor="middle">20</text><text x="75.7" y="527.6" text-anchor="middle">30</text><text x="105" y="527.6" text-anchor="middle">40</text><text x="134.2" y="527.6" text-anchor="middle">50</text><text x="163.4" y="527.6" text-anchor="middle">60</text><text x="192.7" y="527.6" text-anchor="middle">70</text><text x="221.9" y="527.6" text-anchor="middle">80</text></g>
<text transform="translate(16.1 442.3) rotate(-90)" text-anchor="middle" font-size="15" font-weight="bold" fill="#111" stroke="#111" stroke-width="0.3">Counts/Second</text>
<text x="116.7" y="542.6" font-size="14.6" font-weight="bold" fill="#111" stroke="#111" stroke-width="0.3">2&#952; (&#176;)</text>
<text x="47.2" y="383.5" font-size="11.7" font-weight="bold" fill="#1a1aff">(e)</text>
<g font-weight="bold" fill="#111" stroke="#111" stroke-width="0.3"><text x="73.6" y="384.7" font-size="12.5">Sn</text><text x="90" y="390" font-size="7.7">0.92</text><text x="105.1" y="384.7" font-size="12.5">Mg</text><text x="123.5" y="390" font-size="7.7">0.08</text><text x="138.8" y="384.7" font-size="12.5">O</text><text x="148.9" y="390" font-size="7.7">2</text></g>
<g font-weight="bold" fill="#111" stroke="#111" stroke-width="0.3"><circle cx="154.9" cy="397.2" r="1.1" fill="#ee3b3b" fill-opacity="0.55" stroke="none"/><line x1="146.3" y1="409.2" x2="163.4" y2="409.2" stroke="#8a8a8a" stroke-width="0.9"/><line x1="146.3" y1="421.3" x2="163.4" y2="421.3" stroke="#3b3bff" stroke-width="1.2"/><rect x="154.4" y="431.5" width="1.1" height="4.3" fill="#2f9a35" stroke="none"/><text x="165.8" y="399.5" font-size="7.6">I</text><text x="167.7" y="402.8" font-size="4.8">obs</text><text x="165.8" y="411.6" font-size="7.6">I</text><text x="167.7" y="414.9" font-size="4.8">calc</text><text x="165.8" y="423.7" font-size="7.6">I</text><text x="167.7" y="427" font-size="4.8">obs</text><text x="176.8" y="423.7" font-size="7.2">-</text><text x="180.1" y="423.7" font-size="7.6">I</text><text x="181.9" y="427" font-size="4.8">calc</text><text x="165.8" y="436.1" font-size="7.45">Brag Positions</text></g>
<clipPath id="clipf"><rect x="278.4" y="371.9" width="175.2" height="141.5"/></clipPath>
<g clip-path="url(#clipf)">
<path d="M278.4 484.3L290.1 484.3L294.2 484.1L295.1 484L295.8 483.7L296.3 483.3L296.6 482.6L297 480.6L297.2 473.7L297.7 416.8L298 463.8L298.3 478.5L298.4 480.6L298.7 482.6L299.2 483.5L299.8 483.9L301.2 484.1L304.2 484.2L312.4 484.2L315.6 484.1L316.5 484L317.2 483.8L317.7 483.4L318 482.7L318.3 481.7L318.4 480.7L318.6 473.9L319.1 431.1L319.4 465.3L319.7 478.5L319.8 480.7L320 482.3L320.2 483L320.5 483.4L321.2 483.9L321.9 484.1L322.9 484.2L327.5 484.2L329.3 484.1L329.8 484L330.1 483.7L330.3 483.2L330.6 481.1L331 470L331.6 481.9L331.8 483.4L332 483.7L332.4 484L333.1 484L333.4 483.8L333.6 483.3L334 481.2L334.6 483.9L335 484.1L335.7 484.2L341.8 484.3L343.8 484.2L344.1 484L344.3 483.6L344.8 481.3L345.4 483.9L345.6 484.1L346.2 484.2L354.6 484.3L366.4 484.2L368.7 484.1L369.3 483.9L369.9 483.6L370.3 483.2L370.5 482.7L370.8 481.5L370.9 480L371.1 472.9L371.6 445.9L372 472.9L372.3 480L372.4 481.4L372.6 482.7L373 483.3L373.6 483.8L375 484.1L377.5 484.2L378.8 484L379.1 483.8L379.4 483.6L379.6 482.9L379.7 482L380.3 472.5L380.9 482L381 482.9L381.3 483.6L381.5 483.8L381.8 484L383.1 484.2L386 484.2L387.7 484.2L388.4 483.9L388.6 483.6L388.7 483.2L389.3 479L389.9 483.2L390.1 483.8L390.4 484L391 484.2L391.9 484.2L396.9 484.2L399 484.2L399.9 483.9L400.2 483.7L400.4 483.4L400.6 481.9L401.2 473.9L401.8 481.9L402.1 483.3L402.3 483.7L402.5 483.8L402.8 483.8L403.3 483L403.9 483.9L404.2 484.1L404.5 484.2L406.1 484.2L407.5 484.1L408.2 483.9L408.6 483.6L408.8 483.2L409 481.8L409.6 473.8L409.7 474.6L410.1 481.4L410.4 483L410.5 483.4L410.8 483.7L411.2 483.8L411.7 483.8L412.1 483.6L412.3 483.3L412.5 482.1L413.2 471.8L413.9 482.3L414 483L414.3 483.6L414.5 483.8L415 484L416.8 484.2L421.6 484.2L422.2 484L422.8 483.4L423.4 484L423.8 484.2L426.3 484.2L427.5 484L427.9 483.8L428.1 483.1L428.7 479.3L428.8 479L428.9 479.3L429.3 482.5L429.5 483.3L429.7 483.5L429.8 483.5L430.2 483L430.8 483.9L431.2 484.2L433.3 484.3L437 484.2L437.5 484L438.1 483.3L438.8 484.1L439.4 484.2L446.1 484.3L448.8 484.1L449.4 483.8L449.7 483.2L450 481.8L450.5 476.4L450.6 475.9L450.7 476.4L451.2 481.8L451.5 483.5L451.7 483.8L452.2 484.1L454.4 484.3" fill="none" stroke="#7d8686" stroke-width="1.1"/>
<path d="M278.4 484.3L291.3 484.2L294.5 484.1L295.5 483.8L296.1 483.5L296.4 483L296.8 481.8L296.9 481.7L298.5 481.7L298.6 481.8L298.9 482.7L299.2 483.3L299.7 483.7L300.5 484L303 484.2L308.9 484.3L314.7 484.2L316.6 483.9L317.2 483.7L317.7 483.2L317.9 482.8L318.3 481.7L319.9 481.7L320.2 482.8L320.5 483.2L320.8 483.6L321.4 483.9L322.9 484.1L326.5 484.2L328.6 484.2L329.6 483.9L330 483.7L330.2 483.3L330.5 481.7L331.6 481.7L331.7 482.9L332 483.5L332.5 483.9L333.1 484L333.3 483.9L333.5 483.7L333.9 481.7L334.2 481.7L334.5 483.6L334.7 483.9L334.9 484.1L336.1 484.2L340.5 484.3L343.1 484.2L343.9 484.1L344.2 483.9L344.3 483.6L344.7 481.7L344.9 481.7L345.2 483.6L345.5 484L345.7 484.2L347.1 484.3L352.3 484.3L364 484.3L368.4 484.1L369.3 483.8L369.9 483.5L370.4 482.8L370.8 481.7L372.4 481.7L372.9 483L373.4 483.6L374.3 484L375.7 484.1L378 484.1L379 483.9L379.3 483.7L379.5 483.3L379.7 482L379.8 481.7L380.8 481.7L381.3 483.6L381.6 483.9L382.2 484.1L383.5 484.2L385.8 484.2L387.3 484.2L388.2 484.1L388.4 483.9L388.6 483.6L389 481.7L389.7 481.7L390 483.6L390.4 484L391.4 484.2L394.5 484.3L398.4 484.2L399.8 484L400.2 483.7L400.4 483.4L400.6 481.9L400.8 481.7L401.7 481.7L401.8 481.9L402.1 483.2L402.4 483.8L402.8 483.8L403.3 483L403.9 483.9L404.2 484.1L405.7 484.2L407.4 484.1L408.3 483.9L408.6 483.6L408.8 483.2L409 481.7L410.2 481.7L410.3 482.6L410.5 483.4L410.9 483.8L411.5 483.8L411.9 483.7L412.2 483.4L412.4 482.9L412.6 481.7L413.8 481.7L414 483L414.3 483.6L414.6 483.9L415.2 484.1L418 484.2L421.8 484.2L422.2 484L422.8 483.4L423.4 484L423.6 484.2L426.2 484.2L427.2 484.1L427.8 483.9L428.1 483.3L428.4 481.7L429.2 481.7L429.4 483L429.6 483.4L429.8 483.5L430.2 483L430.9 484L431.4 484.2L433.8 484.3L437 484.2L437.5 484L438.1 483.3L438.8 484.1L439.2 484.2L447 484.2L448.5 484.1L449.3 483.9L449.7 483.4L450 481.7L451 481.7L451.2 481.7L451.4 483.1L451.7 483.8L452.6 484.1L454.4 484.2" fill="none" stroke="#dd0d0d" stroke-width="2.4" stroke-linejoin="round"/>
<g fill="none" stroke="#ee3b3b" stroke-width="0.8" stroke-opacity="0.5"><circle cx="297.7" cy="405.4" r="0.9"/><circle cx="297.7" cy="410.4" r="0.9"/><circle cx="297.7" cy="415.4" r="0.9"/><circle cx="297.6" cy="420.4" r="0.9"/><circle cx="297.9" cy="424.8" r="0.9"/><circle cx="297.5" cy="429.2" r="0.9"/><circle cx="297.9" cy="433.6" r="0.9"/><circle cx="297.5" cy="438" r="0.9"/><circle cx="297.9" cy="442.4" r="0.9"/><circle cx="297.4" cy="446.8" r="0.9"/><circle cx="298" cy="451.2" r="0.9"/><circle cx="297.4" cy="455.6" r="0.9"/><circle cx="298" cy="460" r="0.9"/><circle cx="297.3" cy="464.4" r="0.9"/><circle cx="298.1" cy="468.8" r="0.9"/><circle cx="297.2" cy="471.8" r="0.9"/><circle cx="298.2" cy="474.8" r="0.9"/><circle cx="297.1" cy="477.8" r="0.9"/><circle cx="298.5" cy="480.8" r="0.9"/><circle cx="319.1" cy="422.5" r="0.9"/><circle cx="319.1" cy="427.5" r="0.9"/><circle cx="319.2" cy="432.5" r="0.9"/><circle cx="318.9" cy="436.9" r="0.9"/><circle cx="319.3" cy="441.3" r="0.9"/><circle cx="318.8" cy="445.7" r="0.9"/><circle cx="319.3" cy="450.1" r="0.9"/><circle cx="318.8" cy="454.5" r="0.9"/><circle cx="319.4" cy="458.9" r="0.9"/><circle cx="318.7" cy="463.3" r="0.9"/><circle cx="319.5" cy="467.7" r="0.9"/><circle cx="318.6" cy="472.1" r="0.9"/><circle cx="319.6" cy="475.1" r="0.9"/><circle cx="318.5" cy="478.1" r="0.9"/><circle cx="319.9" cy="481.1" r="0.9"/><circle cx="331" cy="466.7" r="0.9"/><circle cx="330.8" cy="471.7" r="0.9"/><circle cx="331.4" cy="476.1" r="0.9"/><circle cx="330.6" cy="480.5" r="0.9"/><circle cx="371.6" cy="440.3" r="0.9"/><circle cx="371.6" cy="445.3" r="0.9"/><circle cx="371.8" cy="450.3" r="0.9"/><circle cx="371.3" cy="454.7" r="0.9"/><circle cx="371.9" cy="459.1" r="0.9"/><circle cx="371.2" cy="463.5" r="0.9"/><circle cx="372" cy="467.9" r="0.9"/><circle cx="371.1" cy="472.3" r="0.9"/><circle cx="372.2" cy="476.7" r="0.9"/><circle cx="370.9" cy="479.7" r="0.9"/><circle cx="380.3" cy="472.3" r="0.9"/><circle cx="389.3" cy="478.8" r="0.9"/><circle cx="401.2" cy="473.7" r="0.9"/><circle cx="409.6" cy="473.7" r="0.9"/><circle cx="413.2" cy="471.7" r="0.9"/><circle cx="428.8" cy="478.8" r="0.9"/><circle cx="450.6" cy="475.7" r="0.9"/></g>
<g fill="#2f9a35"><rect x="296.9" y="491.3" width="1.5" height="4.3"/><rect x="318.3" y="491.3" width="1.5" height="4.3"/><rect x="330.3" y="491.3" width="1.5" height="4.3"/><rect x="333.3" y="491.3" width="1.5" height="4.3"/><rect x="344" y="491.3" width="1.5" height="4.3"/><rect x="370.8" y="491.3" width="1.5" height="4.3"/><rect x="379.6" y="491.3" width="1.5" height="4.3"/><rect x="388.6" y="491.3" width="1.5" height="4.3"/><rect x="400.5" y="491.3" width="1.5" height="4.3"/><rect x="402.6" y="491.3" width="1.5" height="4.3"/><rect x="408.8" y="491.3" width="1.5" height="4.3"/><rect x="412.4" y="491.3" width="1.5" height="4.3"/><rect x="422.1" y="491.3" width="1.5" height="4.3"/><rect x="428" y="491.3" width="1.5" height="4.3"/><rect x="429.5" y="491.3" width="1.5" height="4.3"/><rect x="437.3" y="491.3" width="1.5" height="4.3"/><rect x="449.8" y="491.3" width="1.5" height="4.3"/></g>
<path d="M278.4 507.3L297.2 507.3L297.3 507L297.5 505.3L297.7 498L297.9 509.3L298 509.9L298.2 508.2L298.3 507.4L298.4 507.3L318.6 507.3L318.7 507L318.8 505.6L319.1 501.3L319.3 508.5L319.4 509.5L319.7 507.5L319.8 507.3L319.9 507.3L330.6 507.3L330.7 506.9L331 504.5L331.4 508L331.6 507.4L331.9 507.3L344.3 507.3L344.4 507.2L344.8 505.9L345.1 507.6L345.5 507.3L345.7 507.3L371 507.3L371.1 507.1L371.2 506.5L371.6 501L371.9 507.5L372 507.8L372.3 507.4L372.5 507.3L379.7 507.3L380 507.1L380.3 505.9L380.7 507.6L380.8 507.6L381 507.4L381.3 507.3L408.9 507.3L409.1 507.2L409.2 507.1L409.5 506.6L409.6 506.6L409.9 509.1L410.1 509L410.4 507.4L410.6 507.3L412.6 507.3L412.8 506.9L413.1 505.6L413.2 505.6L413.3 506.2L413.6 508.9L413.7 508.9L413.9 507.8L414 507.4L414.3 507.3L454.4 507.3" fill="none" stroke="#2a2aff" stroke-width="1.25"/>
</g>
<rect x="278.4" y="371.9" width="175.2" height="141.5" fill="none" stroke="#1e1e1e" stroke-width="1.0"/>
<path d="M278.4 513.4V515.8M307.6 513.4V515.8M336.8 513.4V515.8M366 513.4V515.8M395.2 513.4V515.8M424.4 513.4V515.8M453.6 513.4V515.8" stroke="#1e1e1e" stroke-width="1.0"/>
<g font-size="10" font-weight="bold" fill="#111" stroke="#111" stroke-width="0.3"><text x="275.1" y="507.4" text-anchor="end">-1000</text><text x="275.1" y="488.5" text-anchor="end">0</text><text x="275.1" y="469.5" text-anchor="end">1000</text><text x="275.1" y="450.6" text-anchor="end">2000</text><text x="275.1" y="431.6" text-anchor="end">3000</text><text x="275.1" y="412.6" text-anchor="end">4000</text><text x="275.1" y="393.7" text-anchor="end">5000</text><text x="275.1" y="374.7" text-anchor="end">6000</text><text x="278.4" y="527.1" text-anchor="middle">20</text><text x="307.6" y="527.1" text-anchor="middle">30</text><text x="336.8" y="527.1" text-anchor="middle">40</text><text x="366" y="527.1" text-anchor="middle">50</text><text x="395.2" y="527.1" text-anchor="middle">60</text><text x="424.4" y="527.1" text-anchor="middle">70</text><text x="453.6" y="527.1" text-anchor="middle">80</text></g>
<text transform="translate(248.1 442.2) rotate(-90)" text-anchor="middle" font-size="15" font-weight="bold" fill="#111" stroke="#111" stroke-width="0.3">Counts/Second</text>
<text x="348.4" y="541.2" font-size="14.6" font-weight="bold" fill="#111" stroke="#111" stroke-width="0.3">2&#952; (&#176;)</text>
<text x="279.2" y="382.5" font-size="11.5" font-weight="bold" fill="#1a1aff">(f)</text>
<g font-weight="bold" fill="#111" stroke="#111" stroke-width="0.3"><text x="305.8" y="383.8" font-size="12.5">Sn</text><text x="322.2" y="389.1" font-size="7.7">0.90</text><text x="337.3" y="383.8" font-size="12.5">Mg</text><text x="355.7" y="389.1" font-size="7.7">0.10</text><text x="371" y="383.8" font-size="12.5">O</text><text x="381.1" y="389.1" font-size="7.7">2</text></g>
<g font-weight="bold" fill="#111" stroke="#111" stroke-width="0.3"><circle cx="389.1" cy="395.8" r="1.1" fill="#ee3b3b" fill-opacity="0.55" stroke="none"/><line x1="380.5" y1="407.8" x2="397.6" y2="407.8" stroke="#8a8a8a" stroke-width="0.9"/><line x1="380.5" y1="419.9" x2="397.6" y2="419.9" stroke="#8080ff" stroke-width="1.9"/><rect x="388.6" y="430.1" width="1.1" height="4.3" fill="#2f9a35" stroke="none"/><text x="400" y="398.1" font-size="7.6">I</text><text x="401.9" y="401.4" font-size="4.8">obs</text><text x="400" y="410.2" font-size="7.6">I</text><text x="401.9" y="413.5" font-size="4.8">calc</text><text x="400" y="422.3" font-size="7.6">I</text><text x="401.9" y="425.6" font-size="4.8">obs</text><text x="411" y="422.3" font-size="7.2">-</text><text x="414.3" y="422.3" font-size="7.6">I</text><text x="416.1" y="425.6" font-size="4.8">calc</text><text x="400" y="434.7" font-size="7.45">Brag Positions</text></g>
</svg>
</body></html>
